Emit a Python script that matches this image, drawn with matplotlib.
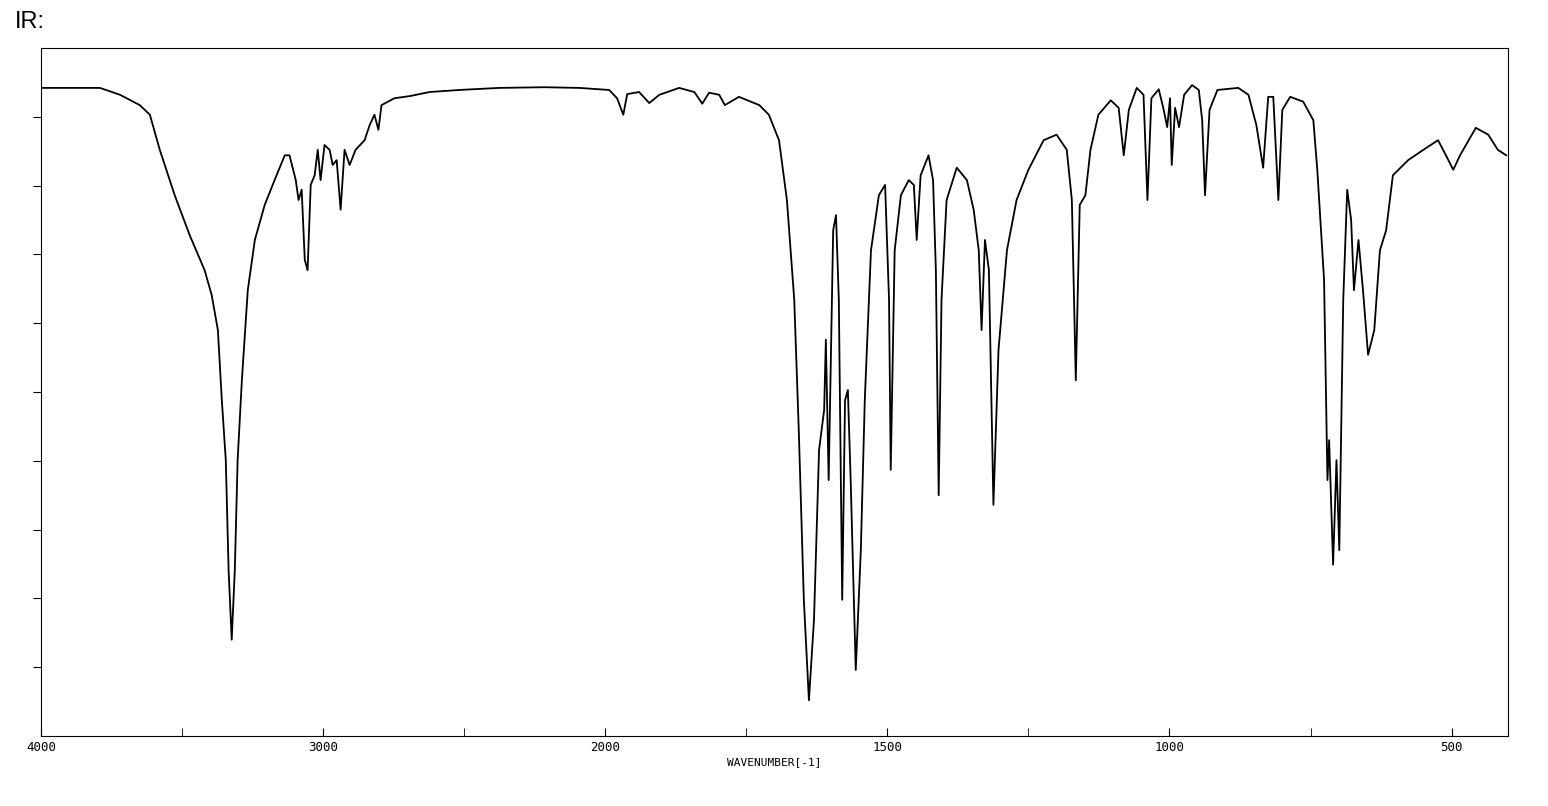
import numpy as np
import matplotlib
matplotlib.use("Agg")
import matplotlib.pyplot as plt

wavenumber = [4000,3791,3720,3650,3614,3579,3526,3473,3420,3395,3373,3359,3345,3335,3324,3313,3303,3288,3267,3242,3207,3172,3136,3119,3097,3087,3076,3065,3055,3044,3030,3019,3009,2995,2977,2966,2952,2938,2924,2906,2885,2853,2835,2818,2804,2793,2747,2694,2623,2517,2375,2216,2092,1993,1979,1968,1961,1940,1922,1904,1869,1842,1828,1816,1798,1788,1763,1727,1710,1692,1678,1665,1657,1648,1639,1630,1621,1612,1609,1604,1596,1591,1586,1580,1575,1570,1565,1556,1547,1540,1529,1515,1504,1497,1494,1487,1476,1462,1453,1448,1441,1427,1419,1414,1409,1404,1395,1377,1359,1347,1338,1333,1327,1320,1312,1303,1288,1271,1250,1223,1200,1182,1173,1166,1159,1149,1140,1126,1104,1090,1081,1072,1058,1046,1039,1032,1019,1011,1004,999,996,990,983,974,960,948,942,937,929,915,878,860,846,839,834,825,816,807,800,786,763,745,738,726,720,717,710,704,699,692,685,678,673,665,657,648,637,627,616,604,577,550,524,510,497,485,457,435,418,403]
transmittance = [94.2,94.2,93.2,91.7,90.3,85.2,78.6,72.8,67.7,64.1,59.0,48.8,40.1,24.1,14.0,24.1,40.1,51.7,64.8,72.1,77.2,80.8,84.4,84.4,80.8,77.9,79.4,69.2,67.7,80.1,81.5,85.2,80.8,85.9,85.2,83.0,83.7,76.5,85.2,83.0,85.2,86.6,88.8,90.3,88.1,91.7,92.7,93.0,93.6,93.9,94.2,94.3,94.2,93.9,92.7,90.3,93.3,93.6,92.0,93.2,94.2,93.6,91.9,93.5,93.2,91.7,92.9,91.7,90.3,86.6,77.9,63.4,44.5,19.8,5.2,16.9,41.6,47.4,57.6,37.2,73.5,75.7,63.4,19.8,48.8,50.3,37.2,9.6,27.0,48.8,70.6,78.6,80.1,63.4,38.7,70.6,78.6,80.8,80.1,72.1,81.5,84.4,80.8,67.7,35.0,63.4,77.9,82.6,80.8,76.5,70.6,59.0,72.1,67.7,33.6,56.1,70.6,77.9,82.3,86.6,87.4,85.2,77.9,51.7,77.2,78.6,85.2,90.3,92.4,91.3,84.4,91.0,94.2,93.2,77.9,92.7,94.0,91.3,88.5,92.7,83.0,91.3,88.5,93.2,94.6,93.9,89.5,78.6,91.0,93.9,94.2,93.2,88.8,85.2,82.6,92.9,92.9,77.9,91.0,92.9,92.2,89.5,82.3,66.3,37.2,43.0,24.9,40.1,27.0,63.4,79.4,75.0,64.8,72.1,64.8,55.4,59.0,70.6,73.5,81.5,83.7,85.2,86.6,84.4,82.3,84.4,88.4,87.4,85.2,84.4]
major_ticks = [4000, 3000, 2000, 1500, 1000, 500]
minor_ticks = [3500, 2500, 1750, 1250, 750]

def fwd(x):
    x = np.asarray(x, dtype=float)
    return np.where(x >= 2000, (4000 - x) / 2000.0, 1.0 + (2000 - x) / 1000.0)

def inv(u):
    u = np.asarray(u, dtype=float)
    return np.where(u <= 1.0, 4000 - u * 2000.0, 2000 - (u - 1.0) * 1000.0)

fig = plt.figure(figsize=(15.48, 8.06), dpi=100)
ax = fig.add_axes([41/1548, 1 - 736/806, (1508-41)/1548, (736-48)/806])
ax.set_xscale('function', functions=(fwd, inv))
ax.plot(wavenumber, transmittance, color='black', lw=1.3)
ax.set_xlim(400, 4000)
ax.set_ylim(0, 100)
ax.set_xticks(major_ticks)
ax.set_xticks(minor_ticks, minor=True)
ax.set_xticklabels([str(t) for t in major_ticks], family='DejaVu Sans Mono', fontsize=9)
ax.set_yticks(np.arange(10, 100, 10))
ax.set_yticklabels([])
ax.tick_params(axis='x', which='both', direction='in', length=6)
ax.tick_params(axis='y', direction='out', length=6)
ax.set_xlabel('WAVENUMBER[-1]', family='DejaVu Sans Mono', fontsize=8, labelpad=2)
fig.text(15/1548, 1 - 22/806, 'IR:', fontsize=17, va='center', ha='left', family='Liberation Sans')
fig.savefig('out.png', dpi=100)
